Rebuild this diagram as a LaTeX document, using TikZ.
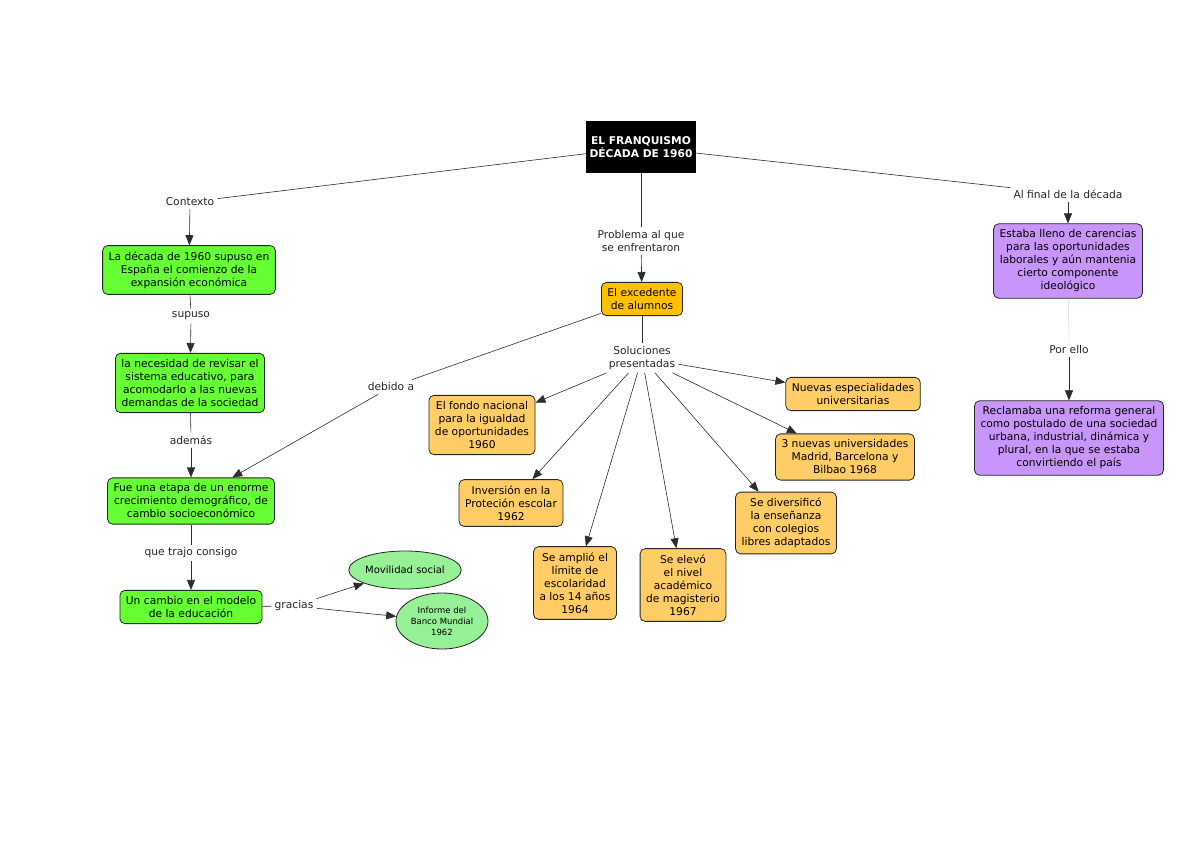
\documentclass[tikz,border=0pt]{standalone}
\usepackage{fontspec}
\setmainfont{DejaVu Sans}
\usepackage{tikz}
\usetikzlibrary{arrows.meta,shapes.geometric}
\definecolor{Verde}{RGB}{102,255,51}
\definecolor{Oro}{RGB}{255,192,0}
\definecolor{Naranja}{RGB}{255,204,102}
\definecolor{Lila}{RGB}{200,150,250}
\definecolor{VerdeClaro}{RGB}{150,240,150}
\definecolor{Enlace}{RGB}{45,45,45}
\newcommand{\Letra}{\fontsize{10.7}{13}\selectfont}
\tikzset{
  concepto/.style={draw=black!85,line width=0.8pt,rounded corners=5pt,align=center,
    inner xsep=6pt,inner ysep=6pt,font=\Letra},
  enlace/.style={align=center,inner sep=3pt,text=black!85,font=\Letra},
  linea/.style={draw=Enlace,line width=0.6pt},
  flecha/.style={linea,-{Triangle[length=10pt,width=8pt]}},
  globo/.style={ellipse,draw=black!85,line width=0.8pt,fill=VerdeClaro,align=center,inner sep=0pt},
}

\begin{document}
\begin{tikzpicture}[x=1pt,y=-1pt]
\useasboundingbox (0,0) rectangle (1200,848);
\fill[white] (0,0) rectangle (1200,848);

% root
\node[fill=black,text=white,font=\Letra\bfseries,align=center,minimum width=109,minimum height=52] (raiz) at (641,147) {EL FRANQUISMO\\DÉCADA DE 1960};

% contexto (green column)
\node[enlace] (ctx) at (190,202) {Contexto};
\node[concepto,fill=Verde] (v1) at (189,270) {La década de 1960 supuso en\\España el comienzo de la\\expansión económica};
\node[enlace] (supuso) at (191,316) {supuso};
\node[concepto,fill=Verde] (v2) at (190,383) {la necesidad de revisar el\\sistema educativo, para\\acomodarlo a las nuevas\\demandas de la sociedad};
\node[enlace] (ademas) at (191,440) {además};
\node[concepto,fill=Verde] (v3) at (191,501) {Fue una etapa de un enorme\\crecimiento demográfico, de\\cambio socioeconómico};
\node[enlace] (trajo) at (191,553) {que trajo consigo};
\node[concepto,fill=Verde] (v4) at (191,607) {Un cambio en el modelo\\de la educación};
\node[enlace] (gracias) at (294,606) {gracias};
\node[globo,minimum width=98,minimum height=38] (movil) at (405,570) {Movilidad social};
\node[globo,minimum width=92,minimum height=56,font=\fontsize{8.5}{11}\selectfont] (banco) at (442,621) {Informe del\\Banco Mundial\\1962};

% problema (orange)
\node[enlace] (problema) at (641,241) {Problema al que\\se enfrentaron};
\node[concepto,fill=Oro] (exc) at (642,299) {El excedente\\de alumnos};
\node[enlace] (sol) at (642,358) {Soluciones\\presentadas};
\node[enlace] (debido) at (391,387) {debido a};
\node[concepto,fill=Naranja] (s1) at (482,425) {El fondo nacional\\para la igualdad\\de oportunidades\\1960};
\node[concepto,fill=Naranja] (s2) at (511,503) {Inversión en la\\Proteción escolar\\1962};
\node[concepto,fill=Naranja] (s3) at (575,583) {Se amplió el\\límite de\\escolaridad\\a los 14 años\\1964};
\node[concepto,fill=Naranja] (s4) at (683,585) {Se elevó\\el nivel\\académico\\de magisterio\\1967};
\node[concepto,fill=Naranja] (s5) at (786,523) {Se diversificó\\la enseñanza\\con colegios\\libres adaptados};
\node[concepto,fill=Naranja] (s6) at (845,457) {3 nuevas universidades\\Madrid, Barcelona y\\Bilbao 1968};
\node[concepto,fill=Naranja] (s7) at (853,394) {Nuevas especialidades\\universitarias};

% al final (purple)
\node[enlace] (final) at (1068,194) {Al final de la década};
\node[concepto,fill=Lila] (p1) at (1068,261) {Estaba lleno de carencias\\para las oportunidades\\laborales y aún mantenia\\cierto componente\\ideológico};
\node[enlace] (porello) at (1069,350) {Por ello};
\node[concepto,fill=Lila] (p2) at (1069,438) {Reclamaba una reforma general\\como postulado de una sociedad\\urbana, industrial, dinámica y\\plural, en la que se estaba\\convirtiendo el país};

% connectors
\draw[linea] (raiz) -- (ctx);
\draw[flecha] (ctx) -- (v1);
\draw[linea] (v1) -- (supuso);
\draw[flecha] (supuso) -- (v2);
\draw[linea] (v2) -- (ademas);
\draw[flecha] (ademas) -- (v3);
\draw[linea] (v3) -- (trajo);
\draw[flecha] (trajo) -- (v4);
\draw[linea] (v4) -- (gracias);
\draw[flecha] (gracias) -- (movil);
\draw[flecha] (gracias) -- (banco);

\draw[linea] (raiz) -- (problema);
\draw[flecha] (problema) -- (exc);
\draw[linea] (exc) -- (sol);
\draw[linea] (exc) -- (debido);
\draw[flecha] (debido) -- (v3);
\foreach \s in {s1,s2,s3,s4,s5,s6,s7}
  \draw[flecha] (sol) -- (\s);

\draw[linea] (raiz) -- (final);
\draw[flecha] (final) -- (p1);
\draw[linea,draw=black!12] (p1) -- (porello);
\draw[flecha] (porello) -- (p2);
\end{tikzpicture}
\end{document}
